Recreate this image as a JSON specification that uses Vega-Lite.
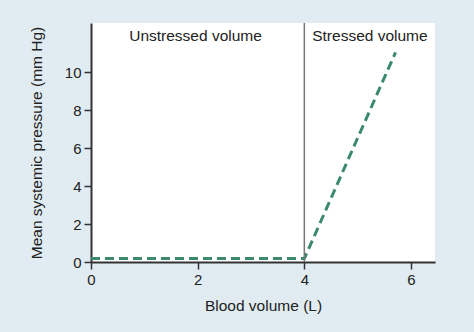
{
  "$schema": "https://vega.github.io/schema/vega-lite/v6.json",
  "width": 344,
  "height": 239,
  "autosize": {"type": "none"},
  "padding": {"left": 91, "top": 23, "right": 39, "bottom": 70},
  "background": "#e1ecf2",
  "config": {
    "view": {"fill": "white", "stroke": null},
    "font": "Liberation Sans",
    "axis": {
      "domainColor": "#333333",
      "domainWidth": 2,
      "tickColor": "#333333",
      "tickWidth": 1.5,
      "tickSize": 7,
      "labelFont": "Liberation Sans",
      "labelFontSize": 15,
      "labelColor": "#222222",
      "labelFlush": false,
      "titleFont": "Liberation Sans",
      "titleFontSize": 15.5,
      "titleFontWeight": "normal",
      "titleColor": "#222222",
      "grid": false
    }
  },
  "layer": [
    {
      "data": {"values": [{"volume": 0, "pressure": 0.18}, {"volume": 4, "pressure": 0.18}, {"volume": 5.71, "pressure": 11.05}]},
      "mark": {"type": "line", "color": "#3b8a6b", "strokeWidth": 3, "strokeDash": [9, 5]},
      "encoding": {
        "x": {"field": "volume", "type": "quantitative", "scale": {"domain": [0, 6.45], "nice": false}, "axis": {"values": [0, 2, 4, 6], "title": "Blood volume (L)", "labelPadding": 3, "titlePadding": 11}},
        "y": {"field": "pressure", "type": "quantitative", "scale": {"domain": [0, 12.6], "nice": false}, "axis": {"values": [0, 2, 4, 6, 8, 10], "title": "Mean systemic pressure (mm Hg)", "labelPadding": 3, "titlePadding": 20}}
      }
    },
    {
      "data": {"values": [{"volume": 4, "y0": 0, "y1": 12.6}]},
      "mark": {"type": "rule", "color": "#777777", "strokeWidth": 1.5},
      "encoding": {
        "x": {"field": "volume", "type": "quantitative"},
        "y": {"field": "y0", "type": "quantitative"},
        "y2": {"field": "y1"}
      }
    },
    {
      "data": {"values": [{"label": "Unstressed volume", "volume": 1.96, "pressure": 11.9}, {"label": "Stressed volume", "volume": 5.23, "pressure": 11.9}]},
      "mark": {"type": "text", "fontSize": 15.5, "color": "#222222", "align": "center", "baseline": "middle"},
      "encoding": {
        "x": {"field": "volume", "type": "quantitative"},
        "y": {"field": "pressure", "type": "quantitative"},
        "text": {"field": "label"}
      }
    }
  ]
}
